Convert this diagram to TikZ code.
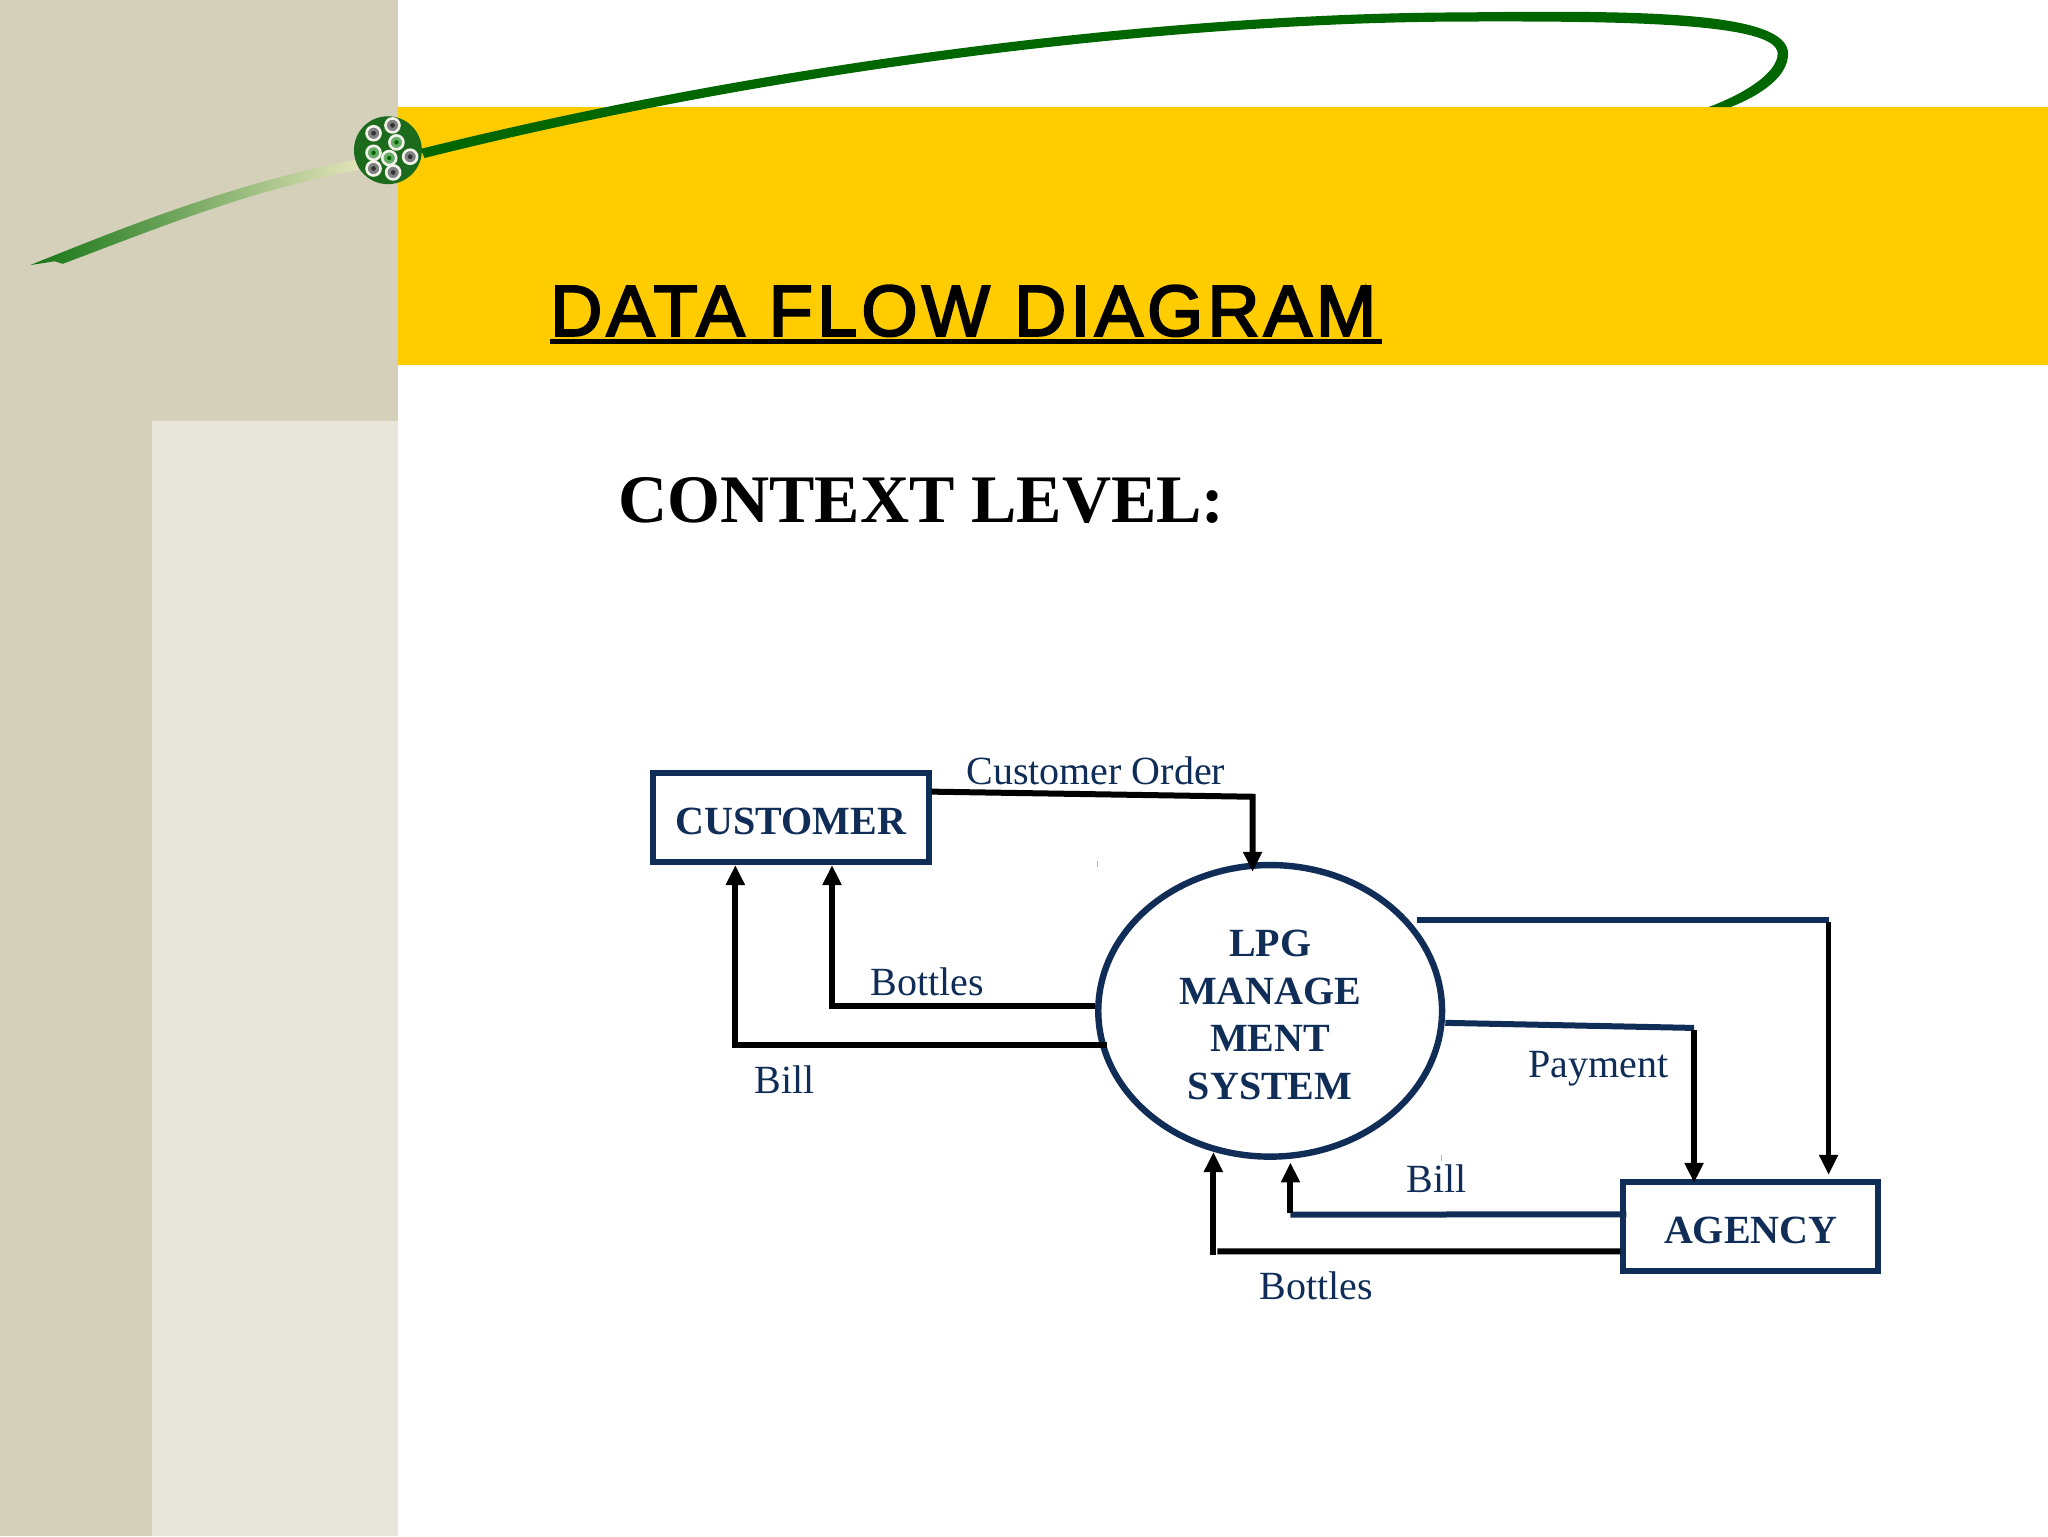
\documentclass[tikz,border=0pt]{standalone}
\usepackage{fontspec}
\usepackage{xcolor}
\setmainfont{Liberation Serif}
\newfontfamily\headingfont[FakeBold=3,LetterSpace=6.0]{Liberation Sans}
\usetikzlibrary{
arrows.meta,
shapes,
backgrounds
}
\definecolor{navy}{HTML}{0F2D57}
\definecolor{bandyellow}{HTML}{FFCC00}
\definecolor{sidedark}{HTML}{D4D0BA}
\definecolor{sidelight}{HTML}{E8E5DA}
\definecolor{stemgreen}{HTML}{006600}
\definecolor{ballgreen}{HTML}{1C6B1C}
\definecolor{grassdark}{HTML}{147514}
\definecolor{grassmid}{HTML}{7FAE6E}
\definecolor{grasspale}{HTML}{E2E3B8}

\begin{document}
\begin{tikzpicture}[
      x=0.65306pt,y=-0.65306pt,
      flow/.style={
        draw=black,
        line width=3pt,
        line cap=butt
      },
      thinflow/.style={
        flow,
        line width=2.6pt
      },
      navyflow/.style={
        draw=navy,
        line width=3pt
      },
      tip/.style={
        -{Triangle[length=10pt,width=9pt]}
      },
      entity/.style={
        draw=navy,
        line width=3pt,
        text=navy,
        text height=17pt,
        font=\fontsize{20}{24}\selectfont\bfseries,
        inner sep=0pt,
        minimum width=137.8pt,
        minimum height=44.4pt
      },
      process/.style={
        draw=navy,
        fill=white,
        ellipse,
        line width=3.2pt,
        text=navy,
        align=center,
        font=\fontsize{20}{23.8}\selectfont\bfseries,
        inner sep=0pt,
        minimum width=171.9pt,
        minimum height=145.8pt
      },
      flowlabel/.style={
        anchor=base,
        text=navy,
        inner sep=0pt,
        font=\fontsize{20}{23}\selectfont
      },
      seedgrey/.style={
        circle,
        draw=white!70!sidedark,
        fill=black!50,
        line width=1.3pt,
        inner sep=0pt,
        minimum size=7pt,
        path picture={\fill[black!80] (path picture bounding box.center) circle (1.2pt);}
      },
      seedgreen/.style={
        seedgrey,
        fill=green!45!black!60,
        path picture={\fill[green!40!black] (path picture bounding box.center) circle (1.1pt);}
      }
    ]
    \useasboundingbox (0,0) rectangle (1568,1176);

    % slide background
    \fill[white] (0,0) rectangle (1568,1176);
    \fill[sidedark] (0,0) rectangle (305,1176);
    \fill[sidelight] (116,322) rectangle (305,1176);
    \fill[bandyellow] (305,82) rectangle (1568,279.5);

    % stem and ball
    \fill[stemgreen] (322,114) .. controls (600,45) and (900,10) .. (1120,9.5)
      .. controls (1250,8) and (1369,8) .. (1369,41)
      .. controls (1369,58) and (1350,72) .. (1325,82) -- (1308,82)
      .. controls (1335,72) and (1361,56) .. (1361,41)
      .. controls (1361,18) and (1250,16) .. (1120,16.5)
      .. controls (900,17) and (600,52) .. (325,121) -- cycle;
    \shade[left color=grassdark,middle color=grassmid,right color=grasspale]
      (23,203) .. controls (100,172) and (180,140) .. (274,122) -- (274,130)
      .. controls (190,146) and (120,175) .. (48,202) -- (42,200) -- cycle;
    \fill[ballgreen] (297,115) circle (26);
    \node[seedgrey] (s1) at (300.5,96) {};
    \node[seedgrey] (s2) at (286,102) {};
    \node[seedgreen] (s3) at (303.5,109) {};
    \node[seedgreen] (s4) at (286,117) {};
    \node[seedgreen] (s5) at (298,121) {};
    \node[seedgrey] (s6) at (314,120) {};
    \node[seedgrey] (s7) at (286,129) {};
    \node[seedgrey] (s8) at (301,132) {};

    % headings
    \node[anchor=base west,inner sep=0pt,font=\fontsize{36}{42}\selectfont\headingfont] (title) at (421,257) {DATA FLOW DIAGRAM};
    \draw[line width=2.2pt] (421,261.5) -- (1058,261.5);
    \node[anchor=base west,inner sep=0pt,font=\fontsize{34}{40}\selectfont\bfseries] (level) at (473,400) {CONTEXT LEVEL:};

    % diagram
    \node[entity] (customer) at (605.5,626) {CUSTOMER};
    \node[process,anchor=west,xshift=81.7pt,yshift=-96.6pt] (lpg) at(customer.east) {\rule{0pt}{17.5pt}LPG\\MANAGE\\MENT\hspace*{22pt}\\SYSTEM};
    \node[entity,anchor=west,xshift=87.5pt,yshift=-107.7pt,minimum width=127.4pt] (agency) at(lpg.east) {AGENCY};

    \coordinate (orderbend) at (959,610);
    \coordinate (bottlesbend) at (637,770);
    \coordinate (billbend) at (563,800);
    \coordinate (topstart) at (1085,704);
    \coordinate (topbend) at (1400,704);
    \coordinate (paybend) at (1297,787);
    \coordinate (billbacktop) at (988,890);
    \coordinate (billbackbend) at (988,930);
    \coordinate (bottlesbackbend) at (929,958);
    \coordinate (bottlesbacktop) at (929,882);

    \draw[flow,tip] ([yshift=13pt]customer.east) -- (orderbend) -- ([yshift=-5pt]lpg.north -| orderbend);
    \draw[flow,tip] (lpg.west |- bottlesbend) -- (bottlesbend) -- (customer.south -| bottlesbend);
    \draw[flow,tip] ([xshift=6pt]lpg.west |- billbend) -- (billbend) -- (customer.south -| billbend);

    \draw[navyflow] (topstart) -- (topbend);
    \draw[thinflow,tip] ([yshift=-1pt]topbend) -- ([yshift=2pt]agency.north -| topbend);
    \draw[navyflow] ([yshift=-6pt]lpg.east) -- (paybend);
    \draw[thinflow,tip] ([yshift=-1pt]paybend) -- ([yshift=-2pt]agency.north -| paybend);
    \draw[navyflow] ([xshift=3pt,yshift=6pt]agency.west) -- (billbackbend);
    \draw[flow,tip] ([yshift=1pt]billbackbend) -- (billbacktop);
    \draw[flow] ([yshift=-12.5pt]agency.west) -- ([xshift=2pt]bottlesbackbend);
    \draw[flow,tip] ([yshift=-2pt]bottlesbackbend) -- (bottlesbacktop);

    \node[flowlabel] (lorder) at (839,600.5) {Customer Order};
    \node[flowlabel] (lbottles) at (710,762) {Bottles};
    \node[flowlabel] (lbill) at (601,837) {Bill};
    \node[flowlabel] (lpay) at (1224,825) {Payment};
    \node[flowlabel] (lbillback) at (1100,913) {Bill};
    \node[flowlabel] (lbottlesback) at (1008,995) {Bottles};

    % stray marks
    \draw[gray!60,line width=0.5pt] (840,659) -- (840,664);
    \draw[gray!60,line width=0.5pt] (1104,884) -- (1104,889);

  \end{tikzpicture}
\end{document}
